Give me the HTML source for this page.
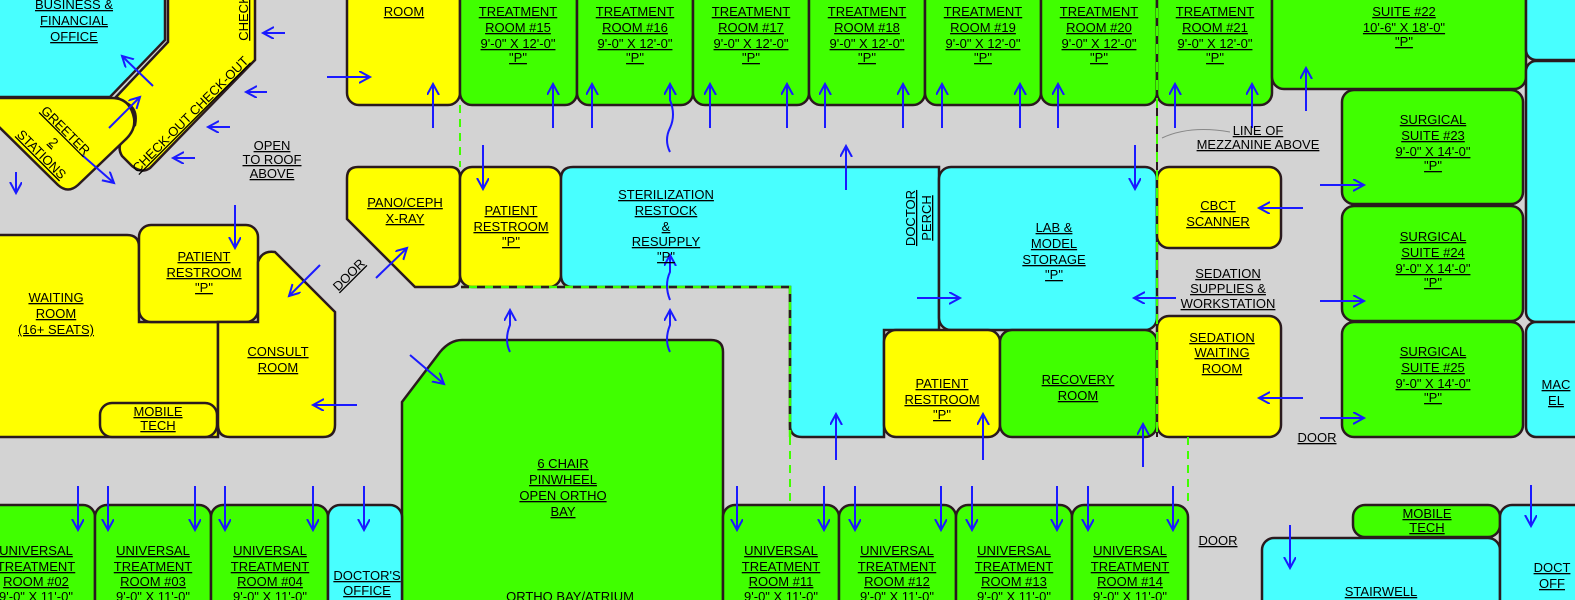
<!DOCTYPE html>
<html><head><meta charset="utf-8"><style>
html,body{margin:0;padding:0;background:#d3d3d3;}
svg{display:block}
text{font-family:"Liberation Sans",sans-serif;font-size:13px;text-anchor:middle;text-decoration:underline;fill:#000}
.r{stroke:#2a1a1e;stroke-width:2.5}
.g{fill:#40ff00}.y{fill:#ffff00}.c{fill:#48ffff}
.a{stroke:#1a1aff;stroke-width:2;fill:none;marker-end:url(#ah)}
</style></head><body>
<svg width="1575" height="600" viewBox="0 0 1575 600" xmlns="http://www.w3.org/2000/svg">
<defs><marker id="ah" markerWidth="14" markerHeight="14" refX="11" refY="6" orient="auto" markerUnits="userSpaceOnUse"><path d="M0,0 L11,6 L0,12" fill="none" stroke="#1a1aff" stroke-width="2"/></marker></defs>
<rect width="1575" height="600" fill="#d3d3d3"/>
<!-- top left -->
<path class="r c" d="M-10,-10 H165 V40 L110,97 H-10 Z"/>
<path class="r y" d="M168,-10 H255 V60 L150,168 Q142,174 132,166 L122,156 Q116,146 125,136 L135,125 Q138,110 128,104 L116,97 L168,42 Z"/>
<path class="r y" d="M-10,98 H112 Q130,98 134,118 Q136,130 125,140 L78,185 Q68,194 58,185 L-10,118 Z"/>
<rect class="r y" x="347" y="-12" width="113" height="117" rx="12"/>
<!-- top green row -->
<rect class="r g" x="460" y="-12" width="117" height="117" rx="12"/>
<rect class="r g" x="577" y="-12" width="116" height="117" rx="12"/>
<rect class="r g" x="693" y="-12" width="116" height="117" rx="12"/>
<rect class="r g" x="809" y="-12" width="116" height="117" rx="12"/>
<rect class="r g" x="925" y="-12" width="116" height="117" rx="12"/>
<rect class="r g" x="1041" y="-12" width="116" height="117" rx="12"/>
<rect class="r g" x="1157" y="-12" width="115" height="117" rx="12"/>
<rect class="r g" x="1272" y="-12" width="254" height="101" rx="12"/>
<rect class="r c" x="1526" y="-12" width="60" height="72" rx="10"/>
<rect class="r c" x="1526" y="61" width="60" height="261" rx="10"/>
<rect class="r g" x="1342" y="90" width="181" height="114" rx="12"/>
<rect class="r g" x="1342" y="206" width="181" height="115" rx="12"/>
<rect class="r g" x="1342" y="322" width="181" height="115" rx="12"/>
<rect class="r c" x="1526" y="322" width="60" height="115" rx="10"/>
<!-- middle -->
<path class="r y" d="M358,167 H450 Q460,167 460,177 V277 Q460,287 450,287 H415 L347,219 V178 Q347,167 358,167 Z"/>
<rect class="r y" x="460" y="167" width="101" height="120" rx="12"/>
<path class="r c" d="M573,167 H939 V330 H884 V437 H802 Q790,437 790,425 V287 H573 Q561,287 561,275 V179 Q561,167 573,167 Z"/>
<path d="M461,287 H790 V437" fill="none" stroke="#40ff00" stroke-width="2.5"/>
<path d="M461,287 H790 V437" fill="none" stroke="#2a1a1e" stroke-width="2.5" stroke-dasharray="8,8"/>
<rect class="r c" x="939" y="167" width="218" height="163" rx="12"/>
<rect class="r y" x="884" y="330" width="116" height="107" rx="12"/>
<rect class="r g" x="1000" y="330" width="157" height="107" rx="12"/>
<rect class="r y" x="1157" y="167" width="124" height="81" rx="12"/>
<rect class="r y" x="1157" y="316" width="124" height="121" rx="12"/>
<!-- left middle -->
<path class="r y" d="M-10,235 H127 Q139,235 139,247 V322 H218 V437 H-10 Z"/>
<rect class="r y" x="139" y="225" width="119" height="97" rx="12"/>
<path class="r y" d="M218,322 H258 V262 Q262,250 275,252 L335,312 V425 Q335,437 323,437 H230 Q218,437 218,425 Z"/>
<rect class="r y" x="100" y="403" width="117" height="34" rx="12"/>
<path class="r g" d="M402,402 L440,352 Q450,340 462,340 H711 Q723,340 723,352 V612 H402 Z"/>
<!-- bottom row -->
<rect class="r g" x="-12" y="505" width="107" height="110" rx="12"/>
<rect class="r g" x="95" y="505" width="116" height="110" rx="12"/>
<rect class="r g" x="211" y="505" width="117" height="110" rx="12"/>
<rect class="r c" x="328" y="505" width="74" height="110" rx="12"/>
<rect class="r g" x="723" y="505" width="116" height="110" rx="12"/>
<rect class="r g" x="839" y="505" width="117" height="110" rx="12"/>
<rect class="r g" x="956" y="505" width="116" height="110" rx="12"/>
<rect class="r g" x="1072" y="505" width="116" height="110" rx="12"/>
<rect class="r c" x="1262" y="538" width="238" height="80" rx="12"/>
<rect class="r g" x="1353" y="505" width="147" height="32" rx="12"/>
<rect class="r c" x="1500" y="505" width="90" height="110" rx="12"/>
<!-- dashed lines -->
<line x1="460" y1="105" x2="460" y2="167" stroke="#40ff00" stroke-width="2" stroke-dasharray="8,6"/>
<line x1="1157" y1="0" x2="1157" y2="437" stroke="#40ff00" stroke-width="2"/>
<line x1="1157" y1="0" x2="1157" y2="437" stroke="#2a1a1e" stroke-width="2" stroke-dasharray="8,10"/>
<line x1="1188" y1="437" x2="1188" y2="505" stroke="#40ff00" stroke-width="2" stroke-dasharray="8,6"/>
<line x1="790" y1="437" x2="790" y2="505" stroke="#40ff00" stroke-width="2" stroke-dasharray="8,6"/>
<path d="M1162,138 Q1190,125 1230,132" stroke="#888" fill="none"/>
<!-- arrows -->
<g>
<line class="a" x1="433" y1="128" x2="433" y2="84"/><line class="a" x1="483" y1="145" x2="483" y2="189"/>
<line class="a" x1="553" y1="128" x2="553" y2="84"/><line class="a" x1="592" y1="128" x2="592" y2="84"/>
<path class="a" d="M670,152 Q664,140 670,128 Q676,115 670,100 L670,84"/>
<line class="a" x1="710" y1="128" x2="710" y2="84"/><line class="a" x1="787" y1="128" x2="787" y2="84"/>
<line class="a" x1="825" y1="128" x2="825" y2="84"/><line class="a" x1="903" y1="128" x2="903" y2="84"/>
<line class="a" x1="942" y1="128" x2="942" y2="84"/><line class="a" x1="1020" y1="128" x2="1020" y2="84"/>
<line class="a" x1="1058" y1="128" x2="1058" y2="84"/><line class="a" x1="1135" y1="145" x2="1135" y2="189"/>
<line class="a" x1="1175" y1="128" x2="1175" y2="84"/><line class="a" x1="1252" y1="128" x2="1252" y2="84"/>
<line class="a" x1="1306" y1="111" x2="1306" y2="68"/><line class="a" x1="846" y1="190" x2="846" y2="146"/>
<path class="a" d="M670,300 Q664,285 670,272 L670,255"/>
<path class="a" d="M510,352 Q504,340 510,325 L510,310"/><path class="a" d="M670,352 Q664,340 670,325 L670,310"/>
<line class="a" x1="327" y1="77" x2="370" y2="77"/><line class="a" x1="285" y1="33" x2="263" y2="33"/>
<line class="a" x1="267" y1="92" x2="246" y2="92"/><line class="a" x1="230" y1="127" x2="208" y2="127"/>
<line class="a" x1="195" y1="158" x2="173" y2="158"/>
<line class="a" x1="153" y1="86" x2="122" y2="56"/><line class="a" x1="109" y1="128" x2="140" y2="97"/>
<line class="a" x1="82" y1="155" x2="114" y2="183"/><line class="a" x1="16" y1="172" x2="16" y2="193"/>
<line class="a" x1="235" y1="205" x2="235" y2="248"/><line class="a" x1="320" y1="265" x2="289" y2="296"/>
<line class="a" x1="376" y1="278" x2="407" y2="248"/><line class="a" x1="357" y1="405" x2="313" y2="405"/>
<line class="a" x1="410" y1="355" x2="444" y2="384"/>
<line class="a" x1="917" y1="298" x2="960" y2="298"/><line class="a" x1="1176" y1="298" x2="1134" y2="298"/>
<line class="a" x1="836" y1="460" x2="836" y2="414"/><line class="a" x1="983" y1="460" x2="983" y2="414"/>
<line class="a" x1="1143" y1="467" x2="1143" y2="424"/>
<line class="a" x1="1320" y1="185" x2="1364" y2="185"/><line class="a" x1="1303" y1="208" x2="1259" y2="208"/>
<line class="a" x1="1320" y1="301" x2="1364" y2="301"/><line class="a" x1="1303" y1="398" x2="1259" y2="398"/>
<line class="a" x1="1320" y1="418" x2="1364" y2="418"/>
<line class="a" x1="78" y1="486" x2="78" y2="530"/><line class="a" x1="108" y1="486" x2="108" y2="530"/>
<line class="a" x1="195" y1="486" x2="195" y2="530"/><line class="a" x1="225" y1="486" x2="225" y2="530"/>
<line class="a" x1="313" y1="486" x2="313" y2="530"/><line class="a" x1="364" y1="486" x2="364" y2="530"/>
<line class="a" x1="737" y1="486" x2="737" y2="530"/><line class="a" x1="824" y1="486" x2="824" y2="530"/>
<line class="a" x1="855" y1="486" x2="855" y2="530"/><line class="a" x1="941" y1="486" x2="941" y2="530"/>
<line class="a" x1="972" y1="486" x2="972" y2="530"/><line class="a" x1="1057" y1="486" x2="1057" y2="530"/>
<line class="a" x1="1088" y1="486" x2="1088" y2="530"/><line class="a" x1="1173" y1="486" x2="1173" y2="530"/>
<line class="a" x1="1290" y1="525" x2="1290" y2="568"/><line class="a" x1="1531" y1="485" x2="1531" y2="526"/>
</g>
<!-- labels -->
<text x="74" y="9">BUSINESS &amp;</text><text x="74" y="25">FINANCIAL</text><text x="74" y="41">OFFICE</text>
<text x="404" y="16">ROOM</text>
<g font-size="13">
<text x="518" y="16">TREATMENT</text><text x="518" y="32">ROOM #15</text><text x="518" y="48">9'-0" X 12'-0"</text><text x="518" y="62">"P"</text>
<text x="635" y="16">TREATMENT</text><text x="635" y="32">ROOM #16</text><text x="635" y="48">9'-0" X 12'-0"</text><text x="635" y="62">"P"</text>
<text x="751" y="16">TREATMENT</text><text x="751" y="32">ROOM #17</text><text x="751" y="48">9'-0" X 12'-0"</text><text x="751" y="62">"P"</text>
<text x="867" y="16">TREATMENT</text><text x="867" y="32">ROOM #18</text><text x="867" y="48">9'-0" X 12'-0"</text><text x="867" y="62">"P"</text>
<text x="983" y="16">TREATMENT</text><text x="983" y="32">ROOM #19</text><text x="983" y="48">9'-0" X 12'-0"</text><text x="983" y="62">"P"</text>
<text x="1099" y="16">TREATMENT</text><text x="1099" y="32">ROOM #20</text><text x="1099" y="48">9'-0" X 12'-0"</text><text x="1099" y="62">"P"</text>
<text x="1215" y="16">TREATMENT</text><text x="1215" y="32">ROOM #21</text><text x="1215" y="48">9'-0" X 12'-0"</text><text x="1215" y="62">"P"</text>
</g>
<text x="1404" y="16">SUITE #22</text><text x="1404" y="32">10'-6" X 18'-0"</text><text x="1404" y="46">"P"</text>
<text x="1433" y="124">SURGICAL</text><text x="1433" y="140">SUITE #23</text><text x="1433" y="156">9'-0" X 14'-0"</text><text x="1433" y="170">"P"</text>
<text x="1433" y="241">SURGICAL</text><text x="1433" y="257">SUITE #24</text><text x="1433" y="273">9'-0" X 14'-0"</text><text x="1433" y="287">"P"</text>
<text x="1433" y="356">SURGICAL</text><text x="1433" y="372">SUITE #25</text><text x="1433" y="388">9'-0" X 14'-0"</text><text x="1433" y="402">"P"</text>
<text x="1556" y="389">MAC</text><text x="1556" y="405">EL</text>
<text x="1258" y="135" font-size="12">LINE OF</text><text x="1258" y="149" font-size="12">MEZZANINE ABOVE</text>
<text x="1218" y="210">CBCT</text><text x="1218" y="219" dy="7">SCANNER</text>
<text x="1228" y="278" font-size="12">SEDATION</text><text x="1228" y="293" font-size="12">SUPPLIES &amp;</text><text x="1228" y="308" font-size="12">WORKSTATION</text>
<text x="1222" y="342">SEDATION</text><text x="1222" y="357">WAITING</text><text x="1222" y="373">ROOM</text>
<text x="1317" y="442" font-size="11">DOOR</text><text x="1218" y="545" font-size="11">DOOR</text>
<text x="272" y="150" font-size="11">OPEN</text><text x="272" y="164" font-size="11">TO ROOF</text><text x="272" y="178" font-size="11">ABOVE</text>
<text x="248" y="18" font-size="11" transform="rotate(-90 248 18)">CHECK</text>
<text x="0" y="5" font-size="12" transform="translate(190,114) rotate(-45)">CHECK-OUT  CHECK-OUT</text>
<text x="0" y="5" font-size="12" transform="translate(66,130) rotate(45)">GREETER</text>
<text x="0" y="5" font-size="12" transform="translate(54,142) rotate(45)">2</text>
<text x="0" y="5" font-size="12" transform="translate(42,154) rotate(45)">STATIONS</text>
<text x="405" y="207">PANO/CEPH</text><text x="405" y="223">X-RAY</text>
<text x="352" y="278" font-size="11" transform="rotate(-45 352 278)">DOOR</text>
<text x="511" y="215">PATIENT</text><text x="511" y="231">RESTROOM</text><text x="511" y="246">"P"</text>
<text x="666" y="199">STERILIZATION</text><text x="666" y="215">RESTOCK</text><text x="666" y="231">&amp;</text><text x="666" y="246">RESUPPLY</text><text x="666" y="261">"P"</text>
<text x="915" y="218" transform="rotate(-90 915 218)">DOCTOR</text><text x="931" y="218" transform="rotate(-90 931 218)">PERCH</text>
<text x="1054" y="232">LAB &amp;</text><text x="1054" y="248">MODEL</text><text x="1054" y="264">STORAGE</text><text x="1054" y="279">"P"</text>
<text x="942" y="388">PATIENT</text><text x="942" y="404">RESTROOM</text><text x="942" y="419">"P"</text>
<text x="1078" y="384">RECOVERY</text><text x="1078" y="400">ROOM</text>
<text x="204" y="261">PATIENT</text><text x="204" y="277">RESTROOM</text><text x="204" y="292">"P"</text>
<text x="56" y="302">WAITING</text><text x="56" y="318">ROOM</text><text x="56" y="334">(16+ SEATS)</text>
<text x="278" y="356">CONSULT</text><text x="278" y="372">ROOM</text>
<text x="158" y="416" font-size="11">MOBILE</text><text x="158" y="430" font-size="11">TECH</text>
<text x="1427" y="518" font-size="11">MOBILE</text><text x="1427" y="532" font-size="11">TECH</text>
<text x="563" y="468">6 CHAIR</text><text x="563" y="484">PINWHEEL</text><text x="563" y="500">OPEN ORTHO</text><text x="563" y="516">BAY</text>
<text x="570" y="601">ORTHO BAY/ATRIUM</text>
<text x="36" y="555">UNIVERSAL</text><text x="36" y="571">TREATMENT</text><text x="36" y="586">ROOM #02</text><text x="36" y="601">9'-0" X 11'-0"</text>
<text x="153" y="555">UNIVERSAL</text><text x="153" y="571">TREATMENT</text><text x="153" y="586">ROOM #03</text><text x="153" y="601">9'-0" X 11'-0"</text>
<text x="270" y="555">UNIVERSAL</text><text x="270" y="571">TREATMENT</text><text x="270" y="586">ROOM #04</text><text x="270" y="601">9'-0" X 11'-0"</text>
<text x="367" y="580">DOCTOR'S</text><text x="367" y="595">OFFICE</text>
<text x="781" y="555">UNIVERSAL</text><text x="781" y="571">TREATMENT</text><text x="781" y="586">ROOM #11</text><text x="781" y="601">9'-0" X 11'-0"</text>
<text x="897" y="555">UNIVERSAL</text><text x="897" y="571">TREATMENT</text><text x="897" y="586">ROOM #12</text><text x="897" y="601">9'-0" X 11'-0"</text>
<text x="1014" y="555">UNIVERSAL</text><text x="1014" y="571">TREATMENT</text><text x="1014" y="586">ROOM #13</text><text x="1014" y="601">9'-0" X 11'-0"</text>
<text x="1130" y="555">UNIVERSAL</text><text x="1130" y="571">TREATMENT</text><text x="1130" y="586">ROOM #14</text><text x="1130" y="601">9'-0" X 11'-0"</text>
<text x="1381" y="596">STAIRWELL</text>
<text x="1552" y="572">DOCT</text><text x="1552" y="588">OFF</text>
</svg>
</body></html>
